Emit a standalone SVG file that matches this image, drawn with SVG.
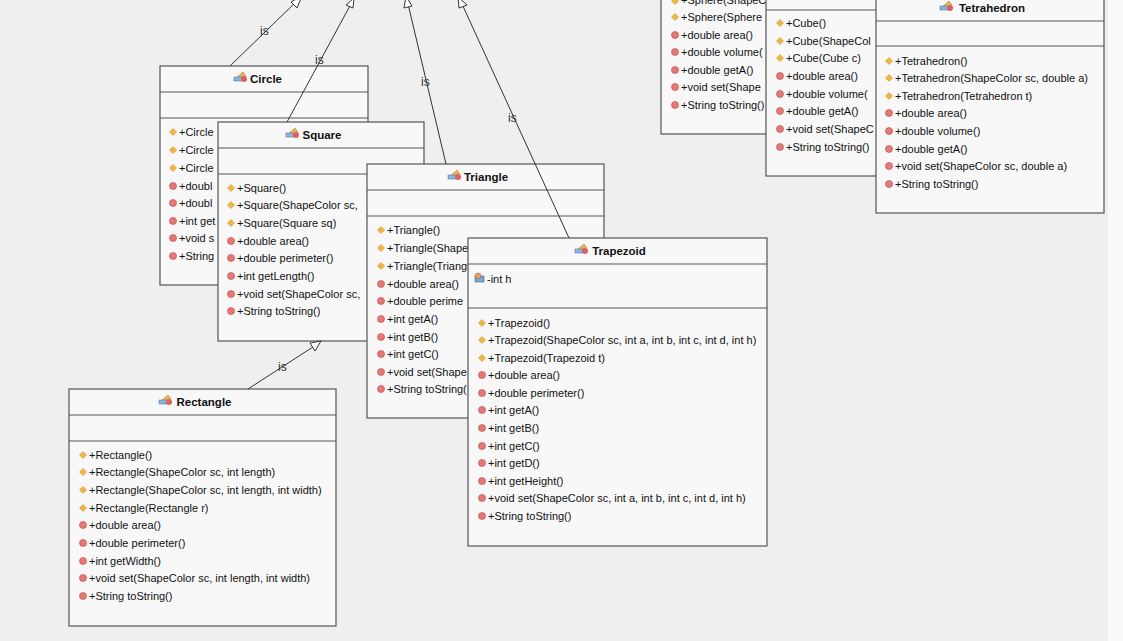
<svg xmlns="http://www.w3.org/2000/svg" xmlns:xlink="http://www.w3.org/1999/xlink" width="1123" height="641" viewBox="0 0 1123 641">
<style>
.bx{fill:#f8f8f8;stroke:#555;stroke-width:1.2}
.sp{stroke:#555;stroke-width:1.2}
text{font-family:"Liberation Sans",Arial,sans-serif;font-size:11px;fill:#111}
.t{font-weight:bold;font-size:11.5px;text-anchor:middle}
.c{stroke:#333;stroke-width:1;fill:none}
.ah{fill:#fff;stroke:#333;stroke-width:1}
.lb{font-size:12px;fill:#333}
</style>
<defs>
<g id="k"><path d="M-4 1 L3 -5 L6 -1 L0 4 Z" fill="#e8b45a" stroke="#a0782a" stroke-width="0.5"/><rect x="-6" y="0" width="8" height="4" fill="#8ab4e0" stroke="#4a6e9a" stroke-width="0.5"/><circle cx="4" cy="2" r="3" fill="#e06060"/></g>
<path id="d" d="M0 -3.5 L3.5 0 L0 3.5 L-3.5 0 Z" fill="#f0b840" stroke="#c08a20" stroke-width="0.5"/>
<circle id="m" r="3.5" fill="#e87878" stroke="#b04848" stroke-width="0.6"/>
<g id="f"><rect x="-5" y="-2" width="9" height="6" fill="#7aa8d8" stroke="#446" stroke-width="0.5"/><circle cx="-2" cy="-2" r="3" fill="#e0a060" stroke="#864" stroke-width="0.5"/></g>
</defs>
<rect width="1123" height="641" fill="#efefef"/>
<rect x="1108" y="0" width="15" height="641" fill="#fafafa"/>

<g id="sphere">
<rect class="bx" x="661" y="-20" width="200" height="154"/>
<use href="#d" x="675" y="1"/><text x="681" y="4">+Sphere(ShapeC</text>
<use href="#d" x="675" y="17"/><text x="681" y="21">+Sphere(Sphere</text>
<use href="#m" x="675" y="35"/><text x="681" y="39">+double area()</text>
<use href="#m" x="675" y="52"/><text x="681" y="56">+double volume(</text>
<use href="#m" x="675" y="70"/><text x="681" y="74">+double getA()</text>
<use href="#m" x="675" y="87"/><text x="681" y="91">+void set(Shape</text>
<use href="#m" x="675" y="105"/><text x="681" y="109">+String toString()</text>
</g>
<g id="cube">
<rect class="bx" x="766" y="-20" width="200" height="196"/>
<line class="sp" x1="766" y1="10" x2="966" y2="10"/>
<use href="#d" x="780" y="23"/><text x="786" y="27">+Cube()</text>
<use href="#d" x="780" y="41"/><text x="786" y="45">+Cube(ShapeCol</text>
<use href="#d" x="780" y="58"/><text x="786" y="62">+Cube(Cube c)</text>
<use href="#m" x="780" y="76"/><text x="786" y="80">+double area()</text>
<use href="#m" x="780" y="94"/><text x="786" y="98">+double volume(</text>
<use href="#m" x="780" y="111"/><text x="786" y="115">+double getA()</text>
<use href="#m" x="780" y="129"/><text x="786" y="133">+void set(ShapeC</text>
<use href="#m" x="780" y="147"/><text x="786" y="151">+String toString()</text>
</g>
<g id="tetrahedron">
<rect class="bx" x="876" y="-10" width="228" height="223"/>
<line class="sp" x1="876" y1="21" x2="1104" y2="21"/>
<line class="sp" x1="876" y1="46" x2="1104" y2="46"/>
<use href="#k" x="946" y="6"/><text class="t" x="992" y="12">Tetrahedron</text>
<use href="#d" x="889" y="61"/><text x="895" y="65">+Tetrahedron()</text>
<use href="#d" x="889" y="78"/><text x="895" y="82">+Tetrahedron(ShapeColor sc, double a)</text>
<use href="#d" x="889" y="96"/><text x="895" y="100">+Tetrahedron(Tetrahedron t)</text>
<use href="#m" x="889" y="113"/><text x="895" y="117">+double area()</text>
<use href="#m" x="889" y="131"/><text x="895" y="135">+double volume()</text>
<use href="#m" x="889" y="149"/><text x="895" y="153">+double getA()</text>
<use href="#m" x="889" y="166"/><text x="895" y="170">+void set(ShapeColor sc, double a)</text>
<use href="#m" x="889" y="184"/><text x="895" y="188">+String toString()</text>
</g>
<g id="circle">
<rect class="bx" x="160" y="66" width="208" height="219"/>
<line class="sp" x1="160" y1="92" x2="368" y2="92"/>
<line class="sp" x1="160" y1="118" x2="368" y2="118"/>
<use href="#k" x="240" y="77"/><text class="t" x="266" y="83">Circle</text>
<use href="#d" x="173" y="132"/><text x="179" y="136">+Circle</text>
<use href="#d" x="173" y="150"/><text x="179" y="154">+Circle</text>
<use href="#d" x="173" y="168"/><text x="179" y="172">+Circle</text>
<use href="#m" x="173" y="186"/><text x="179" y="190">+doubl</text>
<use href="#m" x="173" y="203"/><text x="179" y="207">+doubl</text>
<use href="#m" x="173" y="221"/><text x="179" y="225">+int get</text>
<use href="#m" x="173" y="238"/><text x="179" y="242">+void s</text>
<use href="#m" x="173" y="256"/><text x="179" y="260">+String</text>
</g>
<g id="square">
<rect class="bx" x="218" y="122" width="206" height="219"/>
<line class="sp" x1="218" y1="148" x2="424" y2="148"/>
<line class="sp" x1="218" y1="174" x2="424" y2="174"/>
<use href="#k" x="292" y="133"/><text class="t" x="322" y="139">Square</text>
<use href="#d" x="231" y="188"/><text x="237" y="192">+Square()</text>
<use href="#d" x="231" y="205"/><text x="237" y="209">+Square(ShapeColor sc,</text>
<use href="#d" x="231" y="223"/><text x="237" y="227">+Square(Square sq)</text>
<use href="#m" x="231" y="241"/><text x="237" y="245">+double area()</text>
<use href="#m" x="231" y="258"/><text x="237" y="262">+double perimeter()</text>
<use href="#m" x="231" y="276"/><text x="237" y="280">+int getLength()</text>
<use href="#m" x="231" y="294"/><text x="237" y="298">+void set(ShapeColor sc,</text>
<use href="#m" x="231" y="311"/><text x="237" y="315">+String toString()</text>
</g>
<g id="triangle">
<rect class="bx" x="367" y="164" width="237" height="254"/>
<line class="sp" x1="367" y1="190" x2="604" y2="190"/>
<line class="sp" x1="367" y1="216" x2="604" y2="216"/>
<use href="#k" x="454" y="175"/><text class="t" x="486" y="181">Triangle</text>
<use href="#d" x="381" y="230"/><text x="387" y="234">+Triangle()</text>
<use href="#d" x="381" y="248"/><text x="387" y="252">+Triangle(Shape</text>
<use href="#d" x="381" y="266"/><text x="387" y="270">+Triangle(Triang</text>
<use href="#m" x="381" y="284"/><text x="387" y="288">+double area()</text>
<use href="#m" x="381" y="301"/><text x="387" y="305">+double perime</text>
<use href="#m" x="381" y="319"/><text x="387" y="323">+int getA()</text>
<use href="#m" x="381" y="337"/><text x="387" y="341">+int getB()</text>
<use href="#m" x="381" y="354"/><text x="387" y="358">+int getC()</text>
<use href="#m" x="381" y="372"/><text x="387" y="376">+void set(Shape</text>
<use href="#m" x="381" y="389"/><text x="387" y="393">+String toString(</text>
</g>
<g id="trapezoid">
<rect class="bx" x="468" y="238" width="299" height="308"/>
<line class="sp" x1="468" y1="264" x2="767" y2="264"/>
<line class="sp" x1="468" y1="308" x2="767" y2="308"/>
<use href="#k" x="581" y="249"/><text class="t" x="619" y="255">Trapezoid</text>
<use href="#f" x="480" y="278"/><text x="487" y="283">-int h</text>
<use href="#d" x="482" y="323"/><text x="488" y="327">+Trapezoid()</text>
<use href="#d" x="482" y="340"/><text x="488" y="344">+Trapezoid(ShapeColor sc, int a, int b, int c, int d, int h)</text>
<use href="#d" x="482" y="358"/><text x="488" y="362">+Trapezoid(Trapezoid t)</text>
<use href="#m" x="482" y="375"/><text x="488" y="379">+double area()</text>
<use href="#m" x="482" y="393"/><text x="488" y="397">+double perimeter()</text>
<use href="#m" x="482" y="410"/><text x="488" y="414">+int getA()</text>
<use href="#m" x="482" y="428"/><text x="488" y="432">+int getB()</text>
<use href="#m" x="482" y="446"/><text x="488" y="450">+int getC()</text>
<use href="#m" x="482" y="463"/><text x="488" y="467">+int getD()</text>
<use href="#m" x="482" y="481"/><text x="488" y="485">+int getHeight()</text>
<use href="#m" x="482" y="498"/><text x="488" y="502">+void set(ShapeColor sc, int a, int b, int c, int d, int h)</text>
<use href="#m" x="482" y="516"/><text x="488" y="520">+String toString()</text>
</g>
<g id="rectangle">
<rect class="bx" x="69" y="389" width="267" height="237"/>
<line class="sp" x1="69" y1="415" x2="336" y2="415"/>
<line class="sp" x1="69" y1="441" x2="336" y2="441"/>
<use href="#k" x="165" y="400"/><text class="t" x="204" y="406">Rectangle</text>
<use href="#d" x="83" y="455"/><text x="89" y="459">+Rectangle()</text>
<use href="#d" x="83" y="472"/><text x="89" y="476">+Rectangle(ShapeColor sc, int length)</text>
<use href="#d" x="83" y="490"/><text x="89" y="494">+Rectangle(ShapeColor sc, int length, int width)</text>
<use href="#d" x="83" y="508"/><text x="89" y="512">+Rectangle(Rectangle r)</text>
<use href="#m" x="83" y="525"/><text x="89" y="529">+double area()</text>
<use href="#m" x="83" y="543"/><text x="89" y="547">+double perimeter()</text>
<use href="#m" x="83" y="561"/><text x="89" y="565">+int getWidth()</text>
<use href="#m" x="83" y="578"/><text x="89" y="582">+void set(ShapeColor sc, int length, int width)</text>
<use href="#m" x="83" y="596"/><text x="89" y="600">+String toString()</text>
</g>
<g id="connectors">
<line class="c" x1="230" y1="66" x2="300" y2="-2"/>
<polygon class="ah" points="302,-4 297,8 291,2"/>
<text class="lb" x="260" y="35">is</text>
<line class="c" x1="287" y1="122" x2="352" y2="2"/>
<polygon class="ah" points="354,-2 353,8 346,5"/>
<text class="lb" x="315" y="64">is</text>
<line class="c" x1="446" y1="164" x2="408" y2="4"/>
<polygon class="ah" points="406,-4 412,6 404,8"/>
<text class="lb" x="421" y="86">is</text>
<line class="c" x1="569" y1="238" x2="462" y2="4"/>
<polygon class="ah" points="458,-3 467,5 459,8"/>
<text class="lb" x="508" y="122">is</text>
<line class="c" x1="248" y1="389" x2="316" y2="345"/>
<polygon class="ah" points="321,341 315,351 310,343"/>
<text class="lb" x="278" y="371">is</text>
</g>
</svg>
